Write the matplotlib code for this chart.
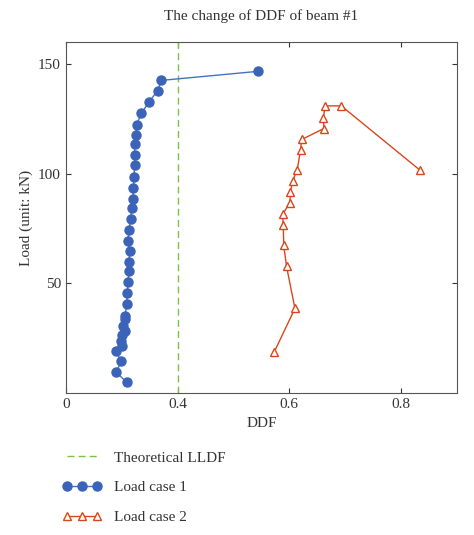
import matplotlib
matplotlib.use('Agg')
from matplotlib import pyplot as plt

ddf_case1 = [0.309, 0.290, 0.299, 0.290, 0.300, 0.298, 0.300, 0.306, 0.303, 0.305, 0.306,
             0.309, 0.310, 0.311, 0.313, 0.313, 0.314, 0.311, 0.313, 0.316, 0.318, 0.320,
             0.321, 0.322, 0.323, 0.323, 0.323, 0.325, 0.327, 0.335, 0.349, 0.364, 0.371, 0.543]
load_case1 = [5, 9.5, 14.5, 19, 21.7, 24, 26.7, 28.5, 30.8, 33.8, 35.3,
              40.6, 45.6, 50.8, 55.5, 59.7, 64.7, 69.2, 74.5, 79.5, 84.5, 88.3,
              93.5, 98.6, 103.8, 108.3, 113.5, 117.7, 122.3, 127.4, 132.6, 137.7, 142.4, 146.5]
ddf_case2 = [0.573, 0.610, 0.595, 0.590, 0.589, 0.588, 0.601, 0.602, 0.606, 0.614,
             0.620, 0.622, 0.662, 0.661, 0.664, 0.693, 0.834]
load_case2 = [18.8, 38.6, 57.7, 67.3, 76.7, 81.5, 86.7, 91.5, 96.8, 101.5,
              110.8, 115.5, 120.5, 125.5, 130.8, 130.8, 101.5]
lldf = 0.4
x_ticks = [0.2, 0.4, 0.6, 0.8]
x_tick_labels = ['0', '0.4', '0.6', '0.8']
y_ticks = [50, 100, 150]

plt.rcParams['font.family'] = ['Liberation Serif', 'DejaVu Serif']
plt.rcParams['font.size'] = 11

fig = plt.figure(figsize=(4.74, 5.35), dpi=100)
ax = fig.add_axes([0.139, 0.265, 0.825, 0.657])

ax.axvline(lldf, color='#7cc242', linestyle=(0, (5, 3)), linewidth=1, label='Theoretical LLDF')
ax.plot(ddf_case1, load_case1, color='#4472c4', marker='o', markersize=6.5, linewidth=1,
        markerfacecolor='#3b64b8', markeredgecolor='#3b64b8', label='Load case 1')
ax.plot(ddf_case2, load_case2, color='#d9461b', marker='^', markersize=6, linewidth=1,
        markerfacecolor='white', markeredgecolor='#d9461b', label='Load case 2')

ax.set_xlim(0.2, 0.9)
ax.set_ylim(0, 160)
ax.set_xticks(x_ticks)
ax.set_xticklabels(x_tick_labels)
ax.set_yticks(y_ticks)
ax.tick_params(direction='in', top=True, right=True, colors='#333333', labelcolor='#333333')
for s in ax.spines.values():
    s.set_color('#555555')

ax.set_xlabel('DDF', color='#333333')
ax.set_ylabel('Load (unit: kN)', color='#333333')
ax.set_title('The change of DDF of beam #1', fontsize=11, color='#333333', pad=16)

ax.legend(loc='upper left', bbox_to_anchor=(-0.045, -0.125), frameon=False,
          numpoints=3, handlelength=2.6, labelspacing=1.05, labelcolor='#333333')

fig.savefig('out.png', dpi=100)
